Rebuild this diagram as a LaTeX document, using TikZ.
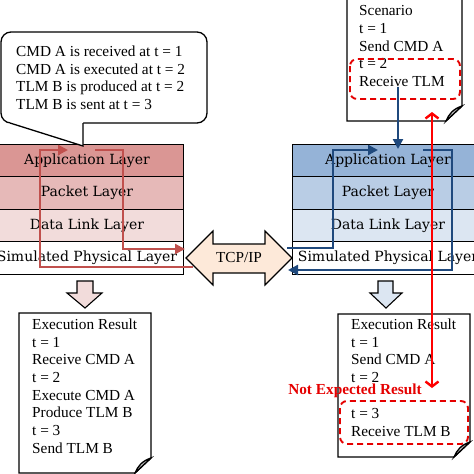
\documentclass[tikz,border=0pt]{standalone}
\usepackage{fontspec}
\setmainfont{Liberation Serif}
\newfontfamily\layerfont{DejaVu Serif}
\usetikzlibrary{arrows.meta}
\definecolor{appred}{HTML}{DA9694}
\definecolor{pktred}{HTML}{E6B9B8}
\definecolor{dlred}{HTML}{F2DCDB}
\definecolor{appblue}{HTML}{95B3D7}
\definecolor{pktblue}{HTML}{B9CDE5}
\definecolor{dlblue}{HTML}{DCE6F2}
\definecolor{flowred}{HTML}{C0504D}
\definecolor{flowblue}{HTML}{1F497D}
\definecolor{tcpfill}{HTML}{FDE9D9}
\newcommand{\docsheet}[4]{%
  \filldraw[sheet] (#1,#2) -- (#3,#2) -- (#3,#4-15) -- (#3-16,#4) -- (#1,#4) -- cycle;
  \filldraw[sheet,fill=gray!50] (#3,#4-15) .. controls (#3-9,#4-12) and (#3-13,#4-7) .. (#3-16,#4) -- cycle;}
\begin{document}
\begin{tikzpicture}[x=1pt,y=-1pt,
        layer/.style={draw,line width=1pt,minimum width=192pt,minimum height=32.5pt,
            inner sep=0pt,font=\layerfont\fontsize{14}{16}\selectfont},
        note/.style={align=left,inner sep=0pt,anchor=north west,
            font=\fontsize{15.3}{17.7}\selectfont},
        sheet/.style={draw,line width=1.3pt,fill=white},
        flow/.style={line width=2.3pt,-{Triangle[length=10pt,width=10pt]}},
        hilite/.style={draw=red!90!black,line width=1.9pt,dash pattern=on 6pt off 4pt,
            rounded corners=7pt},
        downarrow/.style={draw,line width=1.1pt}]
\useasboundingbox (0,0) rectangle (474,474);

% protocol stacks
\node[layer,fill=appred] (lapp) at (87,160.25) {Application Layer};
\node[layer,fill=pktred] (lpkt) at (87,192.75) {Packet Layer};
\node[layer,fill=dlred]  (ldl)  at (87,225.25) {Data Link Layer};
\node[layer,fill=white]  (lphy) at (87,257.75) {Simulated Physical Layer};
\node[layer,fill=appblue] (rapp) at (388,160.25) {Application Layer};
\node[layer,fill=pktblue] (rpkt) at (388,192.75) {Packet Layer};
\node[layer,fill=dlblue]  (rdl)  at (388,225.25) {Data Link Layer};
\node[layer,fill=white]   (rphy) at (388,257.75) {Simulated Physical Layer};

% callout
\node[draw,line width=1.3pt,rounded corners=10pt,minimum width=206pt,minimum height=91pt]
    (callout) at (104,77.5) {};
\fill[white] (10,121.5) -- (83,121.5) -- (83,146) -- (10,123) -- cycle;
\draw[line width=1.3pt] (10,123) -- (83,146) -- (83,123);
\node[note] (calltext) at (16,45.5) {CMD A is received at t = 1\\CMD A is executed at t = 2\\
    TLM B is produced at t = 2\\TLM B is sent at t = 3};

% TCP/IP link
\filldraw[line width=1.2pt,fill=tcpfill] (186,258) -- (213,231) -- (213,244) -- (265,244)
    -- (265,231) -- (292,258) -- (265,285) -- (265,273) -- (213,273) -- (213,285) -- cycle;
\node[font=\fontsize{15.3}{17.7}\selectfont] (tcp) at (239,258) {TCP/IP};

% sheets
\docsheet{347}{-5}{462}{121}
\docsheet{19}{313}{151}{473}
\docsheet{338}{314}{470}{457}
\node[note] (scenario) at (359,5.5) {Scenario\\t = 1\\Send CMD A\\t = 2\\Receive TLM};
\draw[hilite] (350,59) rectangle (460,99);
\node[note] (lresult) at (32,318.5) {Execution Result\\t = 1\\Receive CMD A\\t = 2\\
    Execute CMD A\\Produce TLM B\\t = 3\\Send TLM B};
\node[note] (rresult) at (351,318.5) {Execution Result\\t = 1\\Send CMD A\\t = 2};
\node[note] (rlate) at (351,408.5) {t = 3\\Receive TLM B};
\draw[hilite] (340,401) rectangle (468,444);
\node[font=\bfseries\fontsize{15.3}{17.7}\selectfont,text=red!90!black] (notexp)
    at (355,391) {Not Expected Result};

% down arrows
\filldraw[downarrow,fill=dlred] (77,281) -- (93,281) -- (93,293) -- (102,293) -- (85,308)
    -- (67,293) -- (77,293) -- cycle;
\filldraw[downarrow,fill=dlblue] (378,281) -- (393,281) -- (393,293) -- (402,293) -- (386,308)
    -- (370,293) -- (378,293) -- cycle;

% data flows
\draw[flowred,flow] (193,267) -- (40,267) -- (40,150) -- (68,150);
\draw[flowred,flow] (95,150) -- (123,150) -- (123,249) -- (185,249);
\draw[flowblue,flow] (287,248) -- (333,248) -- (333,150) -- (378,150);
\draw[flowblue,flow] (423,150) -- (452,150) -- (452,270) -- (288,270);
\draw[flowblue,flow] (scenario.south -| 398,121) -- (398,149);
\draw[red,line width=2.4pt,{Straight Barb[length=5pt,width=13pt]}-{Straight Barb[length=5pt,width=13pt]}]
    (432,112) -- (432,388);
\end{tikzpicture}
\end{document}
